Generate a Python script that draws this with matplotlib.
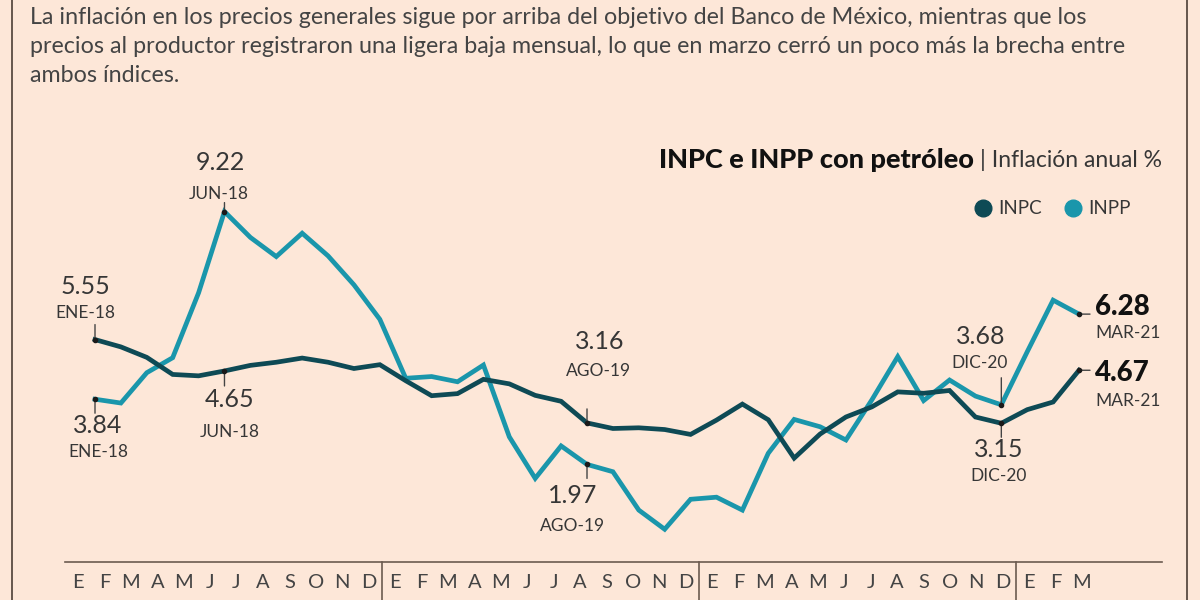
import matplotlib
matplotlib.use("Agg")
from matplotlib import pyplot as plt
from matplotlib.lines import Line2D
import numpy as np

# data: monthly annual inflation, ENE-18 .. MAR-21
months = ['E', 'F', 'M', 'A', 'M', 'J', 'J', 'A', 'S', 'O', 'N', 'D'] * 3 + ['E', 'F', 'M']
inpc = [5.55, 5.34, 5.04, 4.55, 4.51, 4.65, 4.81, 4.90, 5.02, 4.90, 4.72, 4.83,
        4.37, 3.94, 4.00, 4.41, 4.28, 3.95, 3.78, 3.16, 3.00, 3.02, 2.97, 2.83,
        3.24, 3.70, 3.25, 2.15, 2.84, 3.33, 3.62, 4.05, 4.01, 4.09, 3.33, 3.15,
        3.54, 3.76, 4.67]
inpp = [3.84, 3.73, 4.60, 5.03, 6.89, 9.22, 8.48, 7.93, 8.60, 7.95, 7.12, 6.13,
        4.44, 4.49, 4.34, 4.82, 2.76, 1.57, 2.50, 1.97, 1.76, 0.66, 0.11, 0.97,
        1.03, 0.66, 2.29, 3.26, 3.05, 2.67, 3.82, 5.06, 3.80, 4.39, 3.93, 3.68,
        5.20, 6.68, 6.28]
dates = {0: 'ENE-18', 5: 'JUN-18', 19: 'AGO-19', 35: 'DIC-20', 38: 'MAR-21'}

paragraph = ['La inflación en los precios generales sigue por arriba del objetivo del Banco de México, mientras que los',
             'precios al productor registraron una ligera baja mensual, lo que en marzo cerró un poco más la brecha entre',
             'ambos índices.']

BG = '#fde7d8'
C_INPC = '#0e4a55'
C_INPP = '#1a96ab'
TXT = '#363636'
FONT = 'Lato'

plt.rcParams['font.family'] = [FONT, 'DejaVu Sans']

fig = plt.figure(figsize=(12, 6), dpi=100, facecolor=BG)
W, H = 1200, 600


def fx(px):
    return px / W


def fy(py):
    return 1 - py / H


# frame lines
for xp in (11.7, 1187):
    fig.add_artist(Line2D([fx(xp), fx(xp)], [0, 1], color='#5a4b42', lw=1.3))

# intro paragraph, fitted to the width of the second line
fig.canvas.draw()
r = fig.canvas.get_renderer()
probe = fig.text(0, 0, paragraph[1], fontsize=14)
wpx = probe.get_window_extent(r).width
probe.remove()
fs_par = 14 * (1125 - 30) / wpx
for k, line in enumerate(paragraph):
    fig.text(fx(30), fy(17 + 29.5 * k), line, fontsize=fs_par,
             color='#444444', va='center', ha='left')

# main axes
ax = fig.add_axes([fx(65), fy(561.7), fx(1162 - 65), (561.7 - 130) / H])
ax.set_facecolor('none')
x = np.arange(len(inpc))
ax.plot(x, inpc, color=C_INPC, lw=3.4, solid_joinstyle='miter', zorder=3)
ax.plot(x, inpp, color=C_INPP, lw=3.4, solid_joinstyle='miter', zorder=2)
ax.set_xlim(-1.1585, 41.205)
ax.set_ylim(-0.82, 11.56)
for s in ('top', 'right', 'left'):
    ax.spines[s].set_visible(False)
ax.spines['bottom'].set_color('#6b5b50')
ax.spines['bottom'].set_linewidth(1.2)
ax.set_xticks([])
ax.set_yticks([])


def note(series, i, tick, value_off, date_off, horiz=False):
    v = series[i]
    ax.plot([i], [v], 'o', color='#1a1a1a', ms=3, zorder=5)
    if horiz:
        ax.annotate('', xy=(i, v), xytext=(11, 0), textcoords='offset pixels',
                    arrowprops=dict(arrowstyle='-', color='#444444', lw=1, shrinkA=0, shrinkB=0))
        ax.annotate(f'{v:.2f}', xy=(i, v), xytext=value_off, textcoords='offset pixels',
                    ha='left', va='center', fontsize=20, fontweight='black', color='#111111')
    else:
        ax.annotate('', xy=(i, v), xytext=(0, tick), textcoords='offset pixels',
                    arrowprops=dict(arrowstyle='-', color='#444444', lw=1, shrinkA=0, shrinkB=0))
        ax.annotate(f'{v:.2f}', xy=(i, v), xytext=value_off, textcoords='offset pixels',
                    ha='center', va='center', fontsize=18, color=TXT)
    ax.annotate(dates[i], xy=(i, v), xytext=date_off, textcoords='offset pixels',
                ha='center', va='center', fontsize=12.5, color=TXT)


note(inpc, 0, 15, (-10, 53), (-10, 27))
note(inpp, 0, -14, (3, -26), (3, -53))
note(inpp, 5, 9, (-4, 49), (-6, 18))
note(inpc, 5, -15, (5, -29), (5, -61))
note(inpc, 19, 14, (13, 81), (12, 52))
note(inpp, 19, -14, (-14, -31), (-14, -62))
note(inpp, 35, 27, (-21, 68), (-22, 42))
note(inpc, 35, -14, (-3, -26), (-3, -53))
note(inpp, 38, 0, (16, 7), (49, -19), horiz=True)
note(inpc, 38, 0, (16, -3), (49, -31), horiz=True)

# month letters on their own scale
axm = fig.add_axes(ax.get_position())
axm.set_facecolor('none')
axm.axis('off')
axm.set_xlim(-0.492, 41.03)
axm.set_ylim(0, 1)
dy = 20.5 / (561.7 - 130)
for i, m in enumerate(months):
    axm.text(i, -dy, m, ha='center', va='center', fontsize=14.5,
             color='#444444', clip_on=False)
for b in (11.5, 23.5, 35.5):
    axm.plot([b, b], [0, -0.2], color='#6b5b50', lw=1.2, clip_on=False)

# title
t2 = fig.text(fx(1162), fy(160), '| Inflación anual %', ha='right', va='center',
              fontsize=16.5, color=TXT)
fig.canvas.draw()
bb = t2.get_window_extent(fig.canvas.get_renderer())
fig.text(bb.x0 / W - fx(6), fy(160), 'INPC e INPP con petróleo', ha='right', va='center',
         fontsize=19.5, fontweight='black', color='#111111')

# legend
for cx, label, c in ((983, 'INPC', C_INPC), (1073, 'INPP', C_INPP)):
    fig.add_artist(Line2D([fx(cx)], [fy(208)], marker='o', ms=12, color=c, lw=0))
    fig.text(fx(cx + 15), fy(208), label, ha='left', va='center', fontsize=13.5,
             color=TXT)

fig.savefig('out.png', dpi=100, facecolor=BG)
